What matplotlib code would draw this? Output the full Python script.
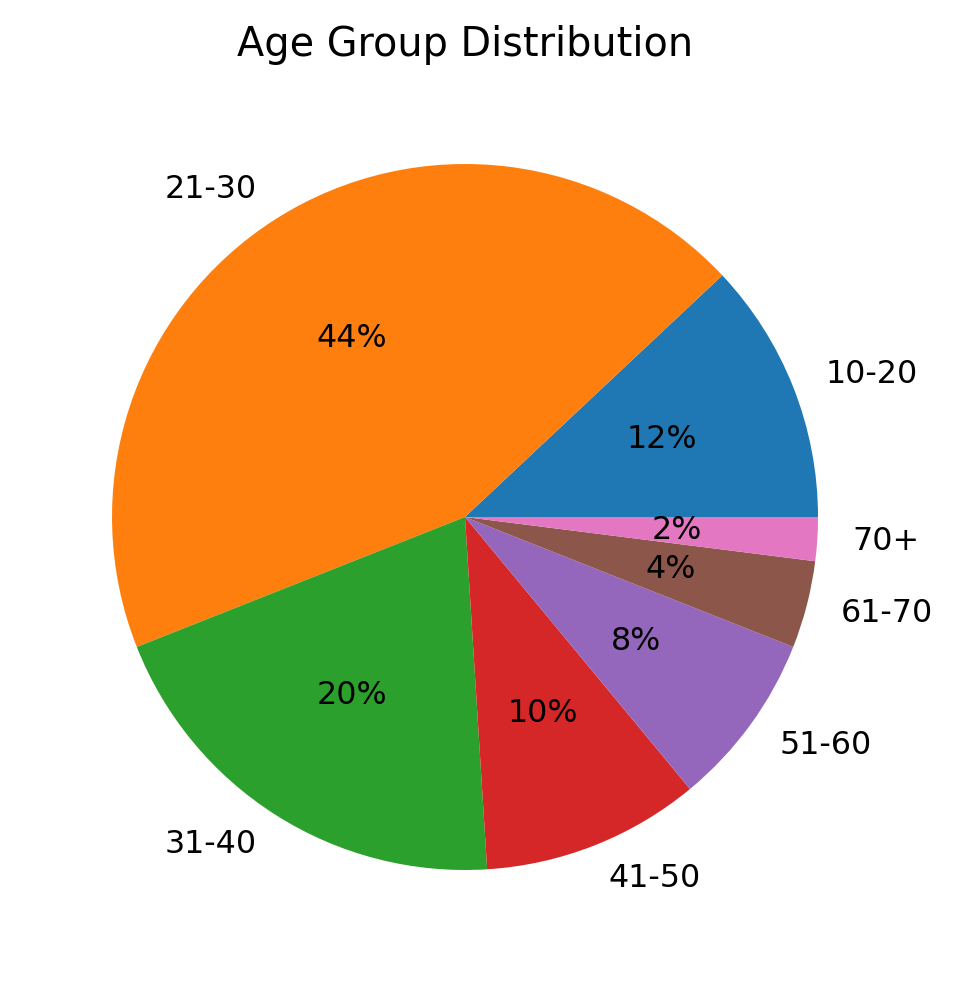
import matplotlib.pyplot as plt

age_groups = ['10-20', '21-30', '31-40', '41-50', '51-60', '61-70', '70+']
shares = [12, 44, 20, 10, 8, 4, 2]

W, H = 960, 981
dpi = 220
fig = plt.figure(figsize=(W / dpi, H / dpi), dpi=dpi)

# pie centre (465, 517) px, radius ~353 px; pie limits are +/-1.25
r = 353
cx, cy = 465, H - 517
side = 2.5 * r
ax = fig.add_axes([(cx - side / 2) / W, (cy - side / 2) / H, side / W, side / H])
ax.pie(shares, labels=age_groups, autopct='%1.0f%%',
       textprops=dict(fontsize=10.4))

fig.text(465 / W, 1 - 56 / H, 'Age Group Distribution', fontsize=13,
         ha='center', va='baseline')

fig.savefig('out.png', dpi=dpi)
